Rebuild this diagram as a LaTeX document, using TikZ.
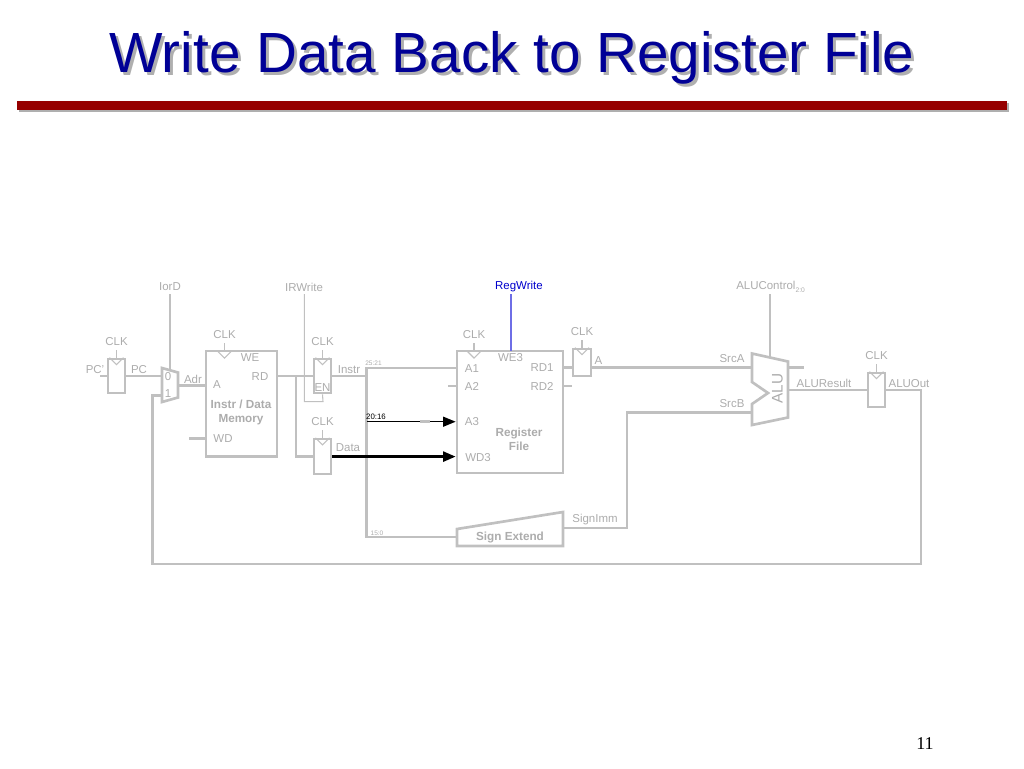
\documentclass[tikz,border=0pt]{standalone}
\usepackage{fontspec}
\setmainfont{Liberation Sans}
\newfontfamily\seriffont{Liberation Serif}
\usetikzlibrary{arrows.meta,calc}
\definecolor{wire}{RGB}{192,192,192}
\definecolor{lbl}{RGB}{172,172,172}
\definecolor{navy}{RGB}{0,0,150}
\definecolor{barred}{RGB}{150,0,0}
\definecolor{shadowgray}{RGB}{175,175,175}
\definecolor{regblue}{RGB}{0,0,204}
\definecolor{bluewire}{RGB}{110,110,230}
\begin{document}
\begin{tikzpicture}[x=0.75pt,y=-0.75pt,
  wireln/.style={draw=wire,line width=2pt},
  thinln/.style={draw=wire,line width=0.8pt},
  lab/.style={text=lbl,font=\fontsize{8.6}{10}\selectfont,inner sep=0pt},
  blab/.style={text=lbl,font=\fontsize{8.8}{10.6}\selectfont\bfseries,inner sep=0pt,align=center},
  tinylab/.style={text=lbl,font=\fontsize{4.9}{5.5}\selectfont,inner sep=0pt},
  regbox/.style={draw=wire,line width=2pt,minimum width=12.75pt,minimum height=25.5pt,inner sep=0pt},
  blackarrow/.style={draw=black,-{Triangle[length=9.5pt,width=7.5pt]}},
  regclk/.pic={
    \draw[thinln] (-7,0) -- (0,7) -- (7,0);
    \draw[thinln] (0,0) -- (0,-8);
    \node[lab] (-t) at (0,-16) {CLK};
  }
]
\useasboundingbox (0,0) rectangle (1024,768);

% ---------- title and rule ----------
\node[anchor=base,inner sep=0pt,text=navy,font=\fontsize{42.5}{50}\selectfont] (title) at (512,72)
  {\makebox[0pt][l]{\hspace{2.25pt}\raisebox{-2.25pt}{\textcolor{shadowgray}{Write Data Back to Register File}}}Write Data Back to Register File};
\fill[shadowgray] (19,103) rectangle (1009,112);
\fill[barred] (17,101) rectangle (1007,110);

% ---------- registers and blocks ----------
\node[regbox] (pcreg) at (116.5,376) {};
\node[draw=wire,line width=2pt,minimum width=53.25pt,minimum height=79.3pt,inner sep=0pt] (mem) at (241.5,403.8) {};
\node[regbox] (irreg) at (322.5,376) {};
\node[regbox,minimum height=26.25pt] (datareg) at (322.5,456.6) {};
\node[draw=wire,line width=2pt,minimum width=79.5pt,minimum height=91.5pt,inner sep=0pt] (rf) at (510,412) {};
\node[regbox,minimum width=13.5pt,minimum height=20.25pt] (areg) at (582,362.5) {};
\node[regbox] (aoreg) at (876.5,390) {};

% clocks
\pic (pcclk) at (pcreg.north) {regclk};
\pic (memclk) at (224.5,351) {regclk};
\pic (irclk) at (irreg.north) {regclk};
\pic (dclk) at (datareg.north) {regclk};
\pic (rfclk) at (474,351) {regclk};
\pic (aclk) at (areg.north) {regclk};
\pic (aoclk) at (aoreg.north) {regclk};

% mux
\draw[wireln,line join=miter] (162,368) -- (178,372.5) -- (178,397.5) -- (162,402) -- cycle;
\coordinate (mux0) at (162,376);
\coordinate (mux1) at (162,395.5);
\coordinate (muxout) at (178,385.5);
\coordinate (muxsel) at (170,370.2);

% ALU
\draw[wireln,line join=miter] (752,353.5) -- (788,361.5) -- (788,417.5) -- (752,425) -- (752,404) -- (768,393) -- (752,382) -- cycle;
\coordinate (srca) at (752,367.5);
\coordinate (srcb) at (752,412.5);
\coordinate (aluout) at (788,390);
\coordinate (aluctl) at (770,357.5);
\coordinate (zero) at (788,367.5);

% sign extend
\draw[wireln,line join=miter] (457,529) -- (563,512) -- (563,546) -- (457,546) -- cycle;
\coordinate (sein) at (457,537);
\coordinate (seout) at (563,528);

% ---------- wires ----------
\coordinate (pcin) at (100,376);
\draw[wireln] (pcin) -- (pcreg.west);
\draw[wireln] (pcreg.east) -- (mux0);
\draw[wireln] (muxout) -- (muxout -| mem.west);
\coordinate (wdin) at (189,438.5);
\draw[wireln] (wdin) -- (wdin -| mem.west);
\coordinate (rd) at (277,376);
\draw[wireln] (rd) -- (irreg.west);
\coordinate (br) at (296,376);
\draw[wireln] (br) -- (br |- datareg.west) -- (datareg.west);
\coordinate (ibus) at (366.7,376);
\draw[wireln] (irreg.east) -- (ibus);
\coordinate (a1) at (457,368);
\draw[wireln] (a1) -- (366.7,368) -- (366.7,537) -- (sein);
\coordinate (a2) at (448,386);
\draw[wireln] (a2) -- (a2 -| rf.west);
\coordinate (rd2) at (572,386);
\draw[wireln] (rf.east |- rd2) -- (rd2);
\coordinate (rd1) at (563,367.7);
\draw[wireln] (rd1) -- (rd1 -| areg.west);
\draw[wireln] (areg.east |- srca) -- (srca);
\coordinate (zeroend) at (804,367.5);
\draw[wireln] (zero) -- (zeroend);
\draw[wireln] (aluout) -- (aoreg.west);
\draw[wireln] (aoreg.east) -- (921,390) -- (921,564) -- (152.7,564) -- (152.7,395.5) -- (mux1);
\draw[wireln] (seout) -- (627,528) -- (627,412.5) -- (srcb);

% control lines
\node[lab] (iord) at (170,287) {IorD};
\draw[thinln] (iord.south |- 0,294) -- (muxsel);
\node[lab] (irwrite) at (304,287) {IRWrite};
\draw[thinln] (304.3,294) -- (304.3,401.7) -- (323,401.7) -- (irreg.south);
\node[text=regblue,font=\fontsize{8.6}{10}\selectfont,inner sep=0pt] (regwrite) at (519,287) {RegWrite};
\draw[draw=bluewire,line width=0.8pt] (511,294) -- (511 ,351);
\node[lab,anchor=west] (aluctrl) at (736,287) {ALUControl{\fontsize{5}{6}\selectfont\raisebox{-2.5pt}{2:0}}};
\draw[thinln] (770,294) -- (aluctl);

% black arrows
\coordinate (a3src) at (366.7,421.7);
\draw[blackarrow,line width=1.1pt] (a3src) -- (a3src -| rf.west);
\draw[draw=wire,line width=2pt] (420,421.7) -- (430,421.7);
\draw[blackarrow,line width=2pt] (datareg.east) -- (datareg.east -| rf.west);

% ---------- labels ----------
\node[lab] (lpcp) at (95,370) {PC'};
\node[lab] (lpc) at (139,370) {PC};
\node[lab] (l0) at (168,376.5) {0};
\node[lab] (l1) at (168,393.5) {1};
\node[lab] (ladr) at (193,379) {Adr};
\node[lab] (lmA) at (217,385) {A};
\node[lab] (lwe) at (250,358) {WE};
\node[lab] (lrd) at (260,377) {RD};
\node[blab] (lmem) at (241,412.5) {Instr / Data\\Memory};
\node[lab] (lwd) at (223,438.5) {WD};
\node[lab] (len) at (322.5,388) {EN};
\node[lab] (linstr) at (349,369.5) {Instr};
\node[lab] (ldata) at (348,447.5) {Data};
\node[tinylab] (l2521) at (373.5,363) {25:21};
\node[text=black,font=\fontsize{5.9}{6.5}\selectfont,inner sep=0pt] (l2016) at (376,417) {20:16};
\node[tinylab] (l150) at (377,533.5) {15:0};
\node[lab] (la1) at (472,368.5) {A1};
\node[lab] (la2) at (472,386) {A2};
\node[lab] (la3) at (472,422) {A3};
\node[lab] (lwd3) at (478,457.5) {WD3};
\node[lab] (lwe3) at (510.5,358) {WE3};
\node[lab] (lrd1) at (542,368) {RD1};
\node[lab] (lrd2) at (542,386) {RD2};
\node[blab] (lrf) at (519,439) {Register\\File};
\node[lab] (lA) at (598.5,361) {A};
\node[lab] (lsrca) at (732,358.5) {SrcA};
\node[lab] (lsrcb) at (732,403.5) {SrcB};
\node[lab,rotate=90,font=\fontsize{11.5}{12}\selectfont] (lalu) at (777.5,388.5) {ALU};
\node[lab] (laluresult) at (824,383.5) {ALUResult};
\node[lab] (laluout) at (909,383.5) {ALUOut};
\node[lab] (lsignimm) at (595,519.5) {SignImm};
\node[blab] (lse) at (510,537.5) {Sign Extend};

% page number
\node[inner sep=0pt,font=\seriffont\fontsize{13.5}{15}\selectfont] (pageno) at (925,744) {11};
\end{tikzpicture}
\end{document}
